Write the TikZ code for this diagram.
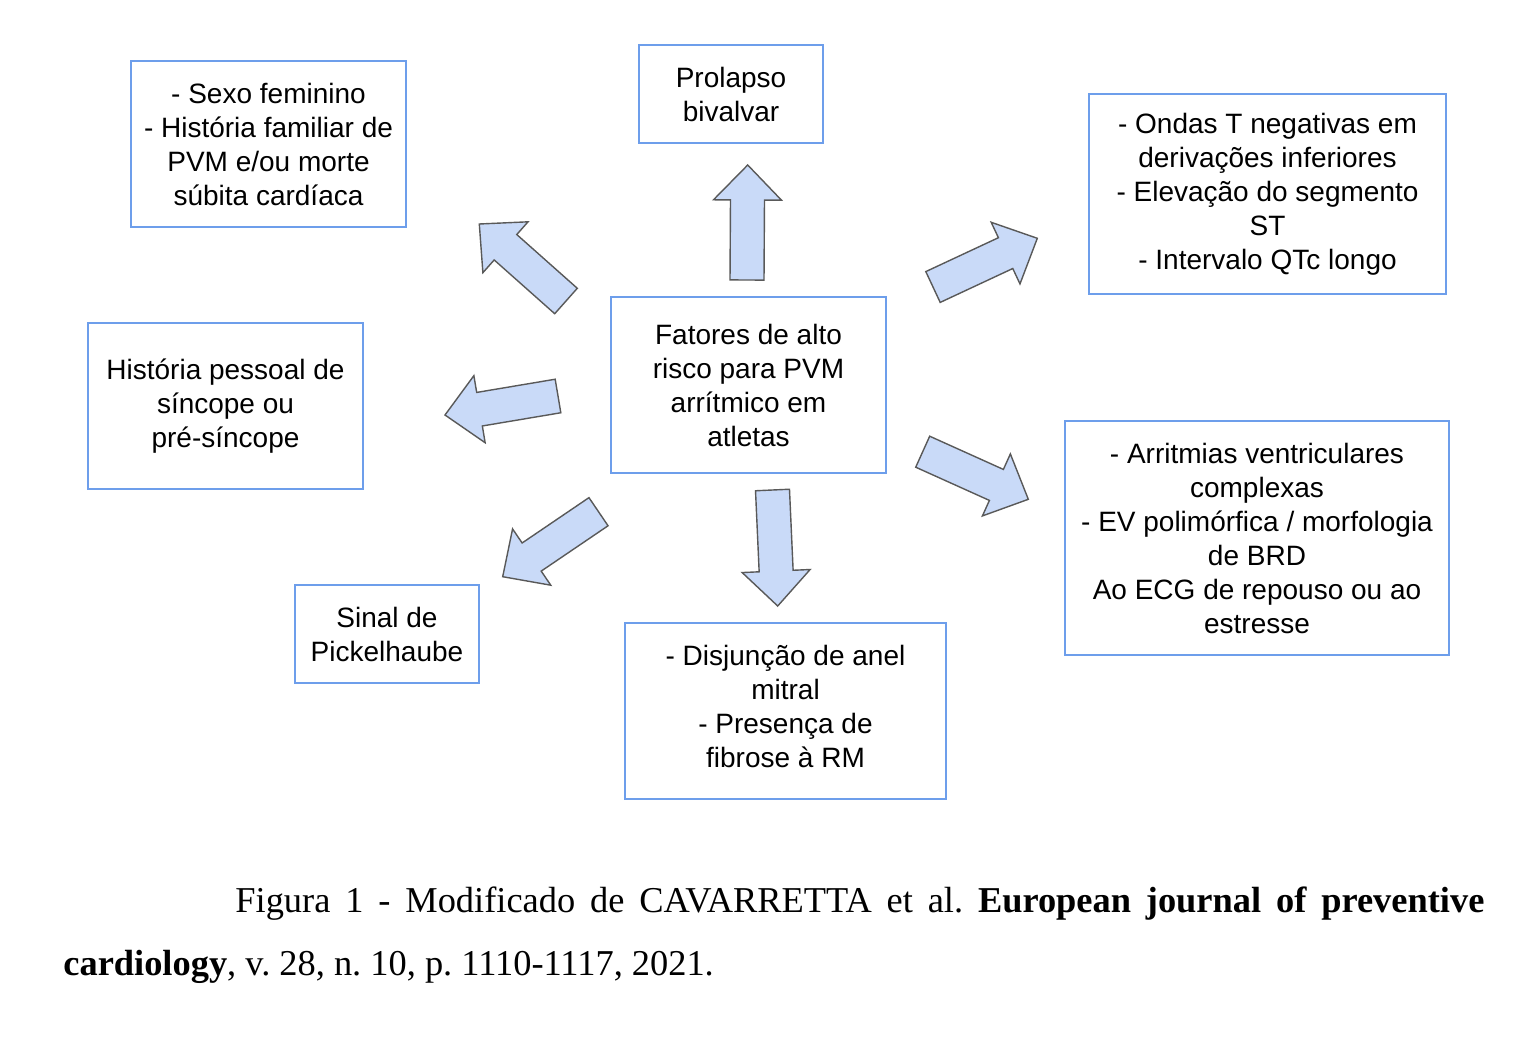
\documentclass[tikz,border=0pt]{standalone}
\usepackage{fontspec}
\setmainfont{Liberation Sans}
\newfontfamily\capfont{Liberation Serif}
\usetikzlibrary{calc}
\definecolor{boxblue}{HTML}{6D9EEB}
\definecolor{arrfill}{HTML}{C9DAF8}
\definecolor{arrline}{HTML}{595959}
\tikzset{
  infobox/.style={draw=boxblue, line width=1pt, inner sep=0pt, align=center,
    font=\fontsize{14pt}{17pt}\selectfont, text=black},
  arrowsty/.style={fill=arrfill, draw=arrline, line width=0.7pt, line join=miter},
  captext/.style={inner sep=0pt, anchor=base west, font=\capfont\fontsize{18.2pt}{21pt}\selectfont}
}
\newcommand{\fatarrow}[2]{%
  \coordinate (#1h) at ($(#2)!17.5pt!(#1)$);
  \draw[arrowsty] ($(#1)!8.5pt!90:(#2)$) -- ($(#1h)!8.5pt!90:(#2)$) -- ($(#1h)!17pt!90:(#2)$)
    -- (#2) -- ($(#1h)!17pt!-90:(#2)$) -- ($(#1h)!8.5pt!-90:(#2)$) -- ($(#1)!8.5pt!-90:(#2)$) -- cycle;
}
\frenchspacing
\begin{document}
\begin{tikzpicture}[x=0.5pt, y=-0.5pt]
\useasboundingbox[fill=white] (0,0) rectangle (1536,1054);

\node[infobox, minimum width=137.5pt, minimum height=83pt] (sexo) at (268.5,144)
  {- Sexo feminino\\- História familiar de\\PVM e/ou morte\\súbita cardíaca};
\node[infobox, minimum width=92pt, minimum height=49pt] (prol) at (731,94)
  {Prolapso\\bivalvar};
\node[infobox, minimum width=178.5pt, minimum height=100pt] (ondas) at (1267.5,194)
  {- Ondas T negativas em\\derivações inferiores\\- Elevação do segmento\\ST\\- Intervalo QTc longo};
\node[infobox, minimum width=137.5pt, minimum height=83pt] (hist) at (225.5,406)
  {História pessoal de\\síncope ou\\pré-síncope};
\node[infobox, minimum width=137.5pt, minimum height=88pt] (center) at (748.5,385)
  {Fatores de alto\\risco para PVM\\arrítmico em\\atletas};
\node[infobox, minimum width=192pt, minimum height=117pt] (arr) at (1257,538)
  {- Arritmias ventriculares\\complexas\\- EV polimórfica / morfologia\\de BRD\\Ao ECG de repouso ou ao\\estresse};
\node[infobox, minimum width=92pt, minimum height=49pt] (sinal) at (387,634)
  {Sinal de\\Pickelhaube};
\node[infobox, minimum width=160.5pt, minimum height=88pt, text depth=5pt] (disj) at (785.5,711)
  {- Disjunção de anel\\mitral\\- Presença de\\fibrose à RM};

% block arrows: tail and tip coordinates
\coordinate (ult) at (566,301);    \coordinate (ulp) at (479.3,224);
\coordinate (upt) at (747,280);    \coordinate (upp) at (747.7,165);
\coordinate (urt) at (933,287);    \coordinate (urp) at (1037.3,238.3);
\coordinate (lt)  at (558,396);    \coordinate (lp)  at (445,415);
\coordinate (lrt) at (922.7,451.7);\coordinate (lrp) at (1028.3,499.3);
\coordinate (llt) at (598.5,511.7);\coordinate (llp) at (502.7,576.7);
\coordinate (dt)  at (772.5,490);  \coordinate (dp)  at (777.7,606);

\fatarrow{ult}{ulp}
\fatarrow{upt}{upp}
\fatarrow{urt}{urp}
\fatarrow{lt}{lp}
\fatarrow{lrt}{lrp}
\fatarrow{llt}{llp}
\fatarrow{dt}{dp}

\node[captext] (cap1) at (235,912)
  {\makebox[624.5pt][s]{Figura 1 - Modificado de CAVARRETTA et al. \textbf{European journal of preventive}}};
\node[captext] (cap2) at (63,975)
  {\textbf{cardiology}, v. 28, n. 10, p. 1110-1117, 2021.};
\end{tikzpicture}
\end{document}
